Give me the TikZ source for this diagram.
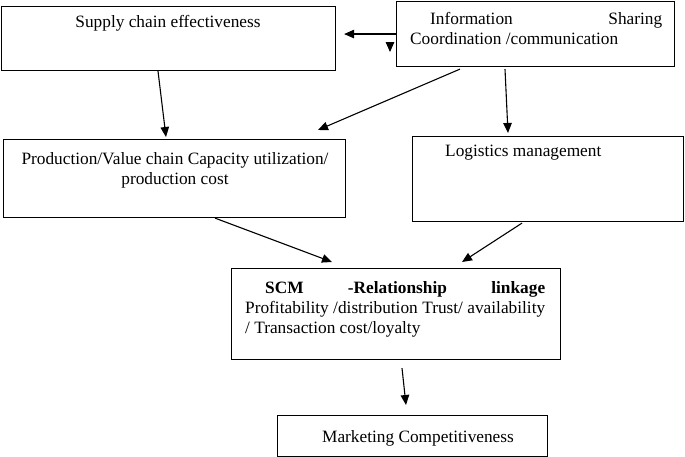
\documentclass[tikz,border=0pt]{standalone}
\usepackage{fontspec}
\setmainfont{Liberation Serif}
\usetikzlibrary{calc, arrows.meta, positioning}

\tikzset{
  box/.style={draw, line width=1.1pt, inner sep=0pt, anchor=north west},
  lbl/.style={inner sep=0pt, font=\fontsize{17.3}{20}\selectfont},
  link/.style={line width=1.1pt, -{Triangle[length=10pt,width=8.5pt]}}
}

\begin{document}
\begin{tikzpicture}[x=1pt, y=-1pt]
        \useasboundingbox (0,0) rectangle (685,457);
        % boxes
        \node[box, minimum width=334pt, minimum height=64pt] (supply) at (1,6) {};
        \node[box, minimum width=278pt, minimum height=65pt] (info) at (396,1) {};
        \node[box, minimum width=342pt, minimum height=78pt] (prod) at (3,139) {};
        \node[box, minimum width=271pt, minimum height=85pt] (logis) at (412,136) {};
        \node[box, minimum width=329pt, minimum height=91pt] (scm) at (231,268) {};
        \node[box, minimum width=270pt, minimum height=41pt] (market) at (277,415) {};
        % texts
        \node[lbl, anchor=base] (supplytext) at (168,28) {Supply chain effectiveness};
        \node[lbl, anchor=north west, align=left] (infotext) at (410,12)
          {\hbox to 252pt{\hspace{20pt}Information\hfill Sharing}\\Coordination /communication};
        \node[lbl, anchor=north, align=center] (prodtext) at (175,152)
          {Production/Value chain Capacity utilization/\\production cost};
        \node[lbl, anchor=base west] (logistext) at (445,157) {Logistics management};
        \node[lbl, anchor=north west, align=left] (scmtext) at (245,281)
          {\hbox to 300pt{\hspace{20pt}\textbf{SCM}\hfill\textbf{-Relationship}\hfill\textbf{linkage}}\\
           \hbox to 300pt{Profitability /distribution Trust/ availability}\\
           / Transaction cost/loyalty};
        \node[lbl, anchor=base] (markettext) at (418,442) {Marketing Competitiveness};
        % links
        \draw[link] (info.west) -- ($(supply.east |- info.west)+(8,0)$);
        \coordinate (stray) at ($(info.west)+(-6,18)$);
        \draw[link] ($(stray)+(0,-10)$) -- (stray);
        \draw[link] ($(info.south west)+(64,2)$) -- ($(prod.north west)+(315,-9)$);
        \draw[link] ($(info.south west)+(109,2)$) -- ($(logis.north west)+(96,-3)$);
        \draw[link] ($(supply.south west)+(157,0)$) -- ($(prod.north west)+(163,-2)$);
        \draw[link] ($(prod.south west)+(212,0)$) -- ($(scm.north west)+(101,-6)$);
        \draw[link] ($(logis.south west)+(110,1)$) -- ($(scm.north west)+(231,-6)$);
        \draw[link] ($(scm.south west)+(171,8)$) -- ($(market.north west)+(129,-10)$);
\end{tikzpicture}
\end{document}
